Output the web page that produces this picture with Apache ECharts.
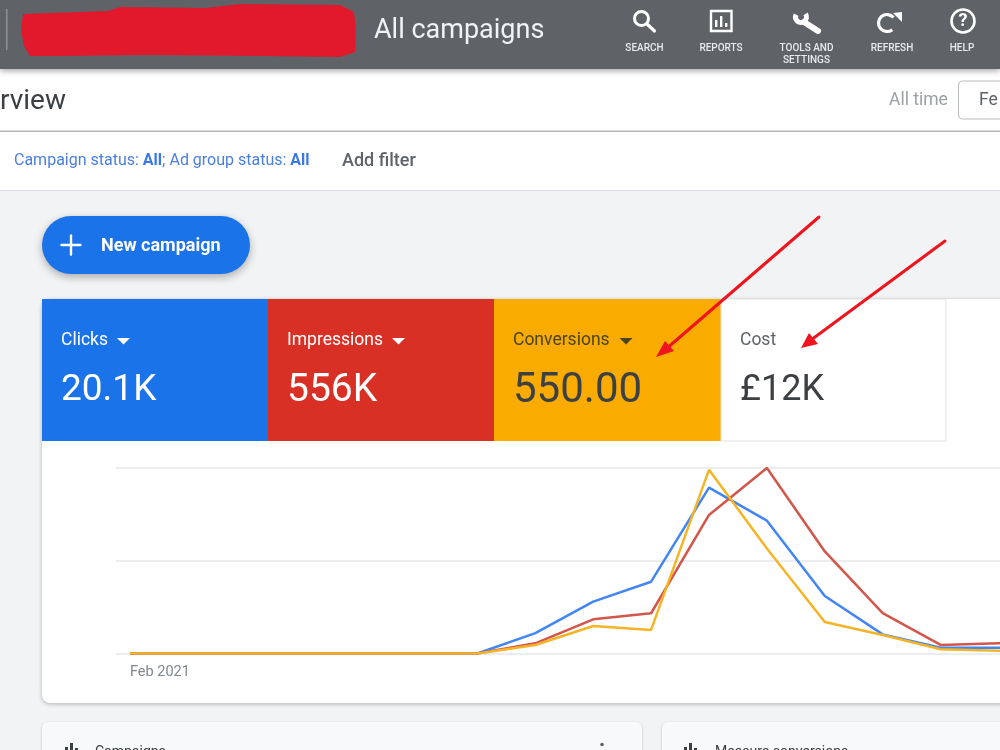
<!DOCTYPE html>
<html>
<head>
<meta charset="utf-8">
<style>
  html, body { margin: 0; padding: 0; background: #f1f3f4; overflow: hidden; }
  #chart { width: 1000px; height: 750px; }
</style>
<script src="https://cdn.jsdelivr.net/npm/echarts@6/dist/echarts.min.js"></script>
</head>
<body>
<div id="chart"></div>
<script>
var weeks = [0, 1, 2, 3, 4, 5, 6, 7, 8, 9, 10, 11, 12, 13, 14, 15, 16];
var clicks = [0, 0, 0, 0, 0, 0, 0, 11, 28, 38.7, 89.4, 71.6, 31, 10.3, 3.1, 3.1, 3.1];
var impressions = [0, 0, 0, 0, 0, 0, 0, 5.5, 18.4, 21.7, 74.7, 100, 55, 21.8, 4.6, 5.5, 5.7];
var conversions = [0, 0, 0, 0, 0, 0, 0, 4.6, 14.8, 12.7, 99, 56.6, 17, 10, 2.3, 1.5, 1.5];
var firstTickLabel = 'Feb 2021';

var kpiNames = ['Clicks', 'Impressions', 'Conversions', 'Cost'];
var kpiValues = ['20.1K', '556K', '550.00', '£12K'];

var navLabels = ['SEARCH', 'REPORTS', 'TOOLS AND\nSETTINGS', 'REFRESH', 'HELP'];

var FONT = 'Roboto, sans-serif';
var WHITE = '#ffffff';

function pairs(values) {
	return values.map(function (v, i) { return [weeks[i], v]; });
}

function rect(x, y, w, h, fill, extra) {
	var style = { fill: fill };
	var out = { type: 'rect', shape: { x: x, y: y, width: w, height: h }, style: style, silent: true };
	extra = extra || {};
	if (extra.r) out.shape.r = extra.r;
	if (extra.z !== undefined) out.z = extra.z;
	['stroke', 'lineWidth', 'shadowBlur', 'shadowColor', 'shadowOffsetY'].forEach(function (k) {
		if (extra[k] !== undefined) style[k] = extra[k];
	});
	return out;
}

function text(str, x, y, size, color, extra) {
	extra = extra || {};
	return {
		type: 'text', x: x, y: y + 1, silent: true, z: 5,
		style: {
			text: str, fill: color, font: (extra.weight || 400) + ' ' + size + 'px ' + FONT,
			align: extra.align || 'left', verticalAlign: 'middle', lineHeight: extra.lineHeight, rich: extra.rich
		}
	};
}

function line(x1, y1, x2, y2, color, width) {
	return { type: 'line', shape: { x1: x1, y1: y1, x2: x2, y2: y2 }, silent: true, z: 5,
		style: { stroke: color, lineWidth: width, lineCap: 'round' } };
}

function ring(cx, cy, r, color, width) {
	return { type: 'circle', shape: { cx: cx, cy: cy, r: r }, silent: true, z: 5,
		style: { fill: 'none', stroke: color, lineWidth: width } };
}

function poly(points, fill) {
	return { type: 'polygon', shape: { points: points }, silent: true, z: 5, style: { fill: fill } };
}

var els = [];

// top header
els.push(rect(0, 0, 1000, 69, '#5f6368', { z: 3, shadowBlur: 6, shadowColor: 'rgba(0,0,0,0.35)', shadowOffsetY: 2 }));
els.push(rect(6, 9, 1.5, 41, '#8d9094', { z: 4 }));
els.push(poly([[23, 14], [108, 11], [120, 7], [205, 8], [240, 4], [340, 5], [354, 12], [356, 30], [355, 52], [340, 57],
	[260, 56], [150, 55], [60, 56], [30, 56], [24, 46], [21, 30]], '#e2182d'));
els.push(text('All campaigns', 374, 30, 27, '#f1f3f4'));

var navX = [644.5, 721, 806.5, 892, 962];
navLabels.forEach(function (label, i) {
	var two = label.indexOf('\n') >= 0;
	els.push(text(label, navX[i], two ? 53 : 47, 10, '#e8eaed', { weight: 500, align: 'center', lineHeight: 12 }));
});

// search
els.push(ring(641.5, 18.5, 7, WHITE, 3));
els.push(line(647, 24, 654.5, 31, WHITE, 3.2));
// reports
els.push({ type: 'rect', shape: { x: 711, y: 11, width: 20.5, height: 20 }, silent: true, z: 5,
	style: { fill: 'none', stroke: WHITE, lineWidth: 2.4 } });
els.push(rect(715, 20, 2.4, 7, WHITE, { z: 5 }));
els.push(rect(720, 16, 2.4, 11, WHITE, { z: 5 }));
els.push(rect(725, 23, 2.4, 4, WHITE, { z: 5 }));
// wrench
els.push(line(804, 22, 818, 31, WHITE, 6));
els.push({ type: 'arc', shape: { cx: 801, cy: 17, r: 5.5, startAngle: -0.6, endAngle: 3.6, clockwise: true }, silent: true, z: 5,
	style: { fill: 'none', stroke: WHITE, lineWidth: 5 } });
// refresh
els.push({ type: 'arc', shape: { cx: 887, cy: 23, r: 8.5, startAngle: -0.7, endAngle: 0.9, clockwise: false }, silent: true, z: 5,
	style: { fill: 'none', stroke: WHITE, lineWidth: 3.2 } });
els.push(poly([[893, 13], [902, 12], [902, 22]], WHITE));
// help
els.push(ring(963, 21, 11.5, WHITE, 2.6));
els.push(text('?', 963, 20.5, 18, WHITE, { weight: 700, align: 'center' }));

// page title row
els.push(rect(0, 69, 1000, 62, WHITE, { z: 1 }));
els.push(rect(0, 130.5, 1000, 1.5, '#b4b6b8', { z: 2 }));
els.push(text('rview', 0, 100.5, 28, '#3c4043'));
els.push(text('All time', 889, 100, 17.5, '#9aa0a6'));
els.push({ type: 'rect', shape: { x: 958.5, y: 81, width: 60, height: 38, r: 4 }, silent: true, z: 4,
	style: { fill: WHITE, stroke: '#b8babc', lineWidth: 1 } });
els.push(text('Fe', 979, 100, 17.5, '#5f6368'));

// filter row
els.push(rect(0, 132, 1000, 58, WHITE, { z: 1 }));
els.push(rect(0, 190, 1000, 1, '#dadce0', { z: 2 }));
els.push(text('{a|Campaign status: }{b|All}{a|; Ad group status: }{b|All}', 14, 159.5, 16, '#4285f4', {
	rich: {
		a: { fill: '#4a7fe0', font: '400 16px ' + FONT },
		b: { fill: '#3b78e7', font: '700 16px ' + FONT }
	}
}));
els.push(text('Add filter', 342, 160, 18, '#5f6368', { weight: 500 }));

// new campaign button
els.push(rect(42, 216, 208, 58, '#1a73e8', { r: 29, z: 3, shadowBlur: 8, shadowColor: 'rgba(0,0,0,0.3)', shadowOffsetY: 3 }));
els.push(line(61.5, 245, 80.5, 245, WHITE, 2.4));
els.push(line(71, 235.5, 71, 254.5, WHITE, 2.4));
els.push(text('New campaign', 101, 245, 18, WHITE, { weight: 700 }));

// main card, sits under the chart lines
els.push(rect(42, 299, 1000, 404, WHITE, { r: 8, z: -2, shadowBlur: 4, shadowColor: 'rgba(0,0,0,0.28)', shadowOffsetY: 1 }));

// kpi tiles
var tileX = [42, 268, 494, 721];
var tileW = [226, 226, 227, 225];
var tileFill = ['#1a73e8', '#d93025', '#f9ab00', WHITE];
var tileLabel = [WHITE, WHITE, '#4b4420', '#5f6368'];
var tileValue = [WHITE, WHITE, '#3c4043', '#3c4043'];
var valueSize = [37, 39, 42, 36];
kpiNames.forEach(function (name, i) {
	var extra = { z: 3 };
	if (i === 3) { extra.stroke = '#e0e0e0'; extra.lineWidth = 1; }
	els.push(rect(tileX[i], 299, tileW[i], 142, tileFill[i], extra));
	els.push(text(name, tileX[i] + 19, 340, 17.5, tileLabel[i]));
	els.push(text(kpiValues[i], tileX[i] + 19, 390, valueSize[i], tileValue[i]));
});
var caretX = [123.5, 398.5, 626];
caretX.forEach(function (x, i) {
	els.push(poly([[x - 6.5, 338], [x + 6.5, 338], [x, 344.5]], tileLabel[i]));
});

// red annotation arrows
els.push(line(819, 217, 666, 349, '#f0141e', 3));
els.push(poly([[656, 357], [665, 341], [674, 351]], '#f0141e'));
els.push(line(945, 241, 811, 340, '#f0141e', 3));
els.push(poly([[801, 348], [809, 333], [818, 344]], '#f0141e'));

// cards below the chart, cut by the window
els.push(rect(42, 722, 600, 60, '#f8f9fa', { r: 6, z: 1, shadowBlur: 3, shadowColor: 'rgba(0,0,0,0.2)', shadowOffsetY: 1 }));
els.push(rect(662, 722, 380, 60, '#f8f9fa', { r: 6, z: 1, shadowBlur: 3, shadowColor: 'rgba(0,0,0,0.2)', shadowOffsetY: 1 }));
els.push(text('Campaigns', 95, 751, 14, '#3c4043'));
els.push(text('Measure conversions', 715, 751, 14, '#3c4043'));
[[65, 747, 3, 5], [70, 743, 3, 9], [75, 748, 3, 4], [684, 747, 3, 5], [689, 743, 3, 9], [694, 748, 3, 4]].forEach(function (b) {
	els.push(rect(b[0], b[1], b[2], b[3], '#3c4043', { z: 5 }));
});
els.push({ type: 'circle', shape: { cx: 602, cy: 744.5, r: 1.8 }, silent: true, z: 5, style: { fill: '#5f6368' } });

var myChart = echarts.init(document.getElementById('chart'), null, { renderer: 'canvas' });

var option = {
	animation: false,
	backgroundColor: '#f1f3f4',
	grid: { left: 116, right: 0, top: 468, bottom: 96.5 },
	xAxis: {
		type: 'value',
		min: -0.2418,
		max: 15.026,
		axisLine: { show: false },
		axisTick: { show: false },
		splitLine: { show: false },
		axisLabel: {
			customValues: [0],
			formatter: function () { return firstTickLabel; },
			align: 'left',
			margin: 11,
			fontFamily: FONT,
			fontSize: 14.5,
			color: '#80868b'
		}
	},
	yAxis: {
		type: 'value',
		min: 0,
		max: 100,
		interval: 50,
		axisLine: { show: false },
		axisTick: { show: false },
		axisLabel: { show: false },
		splitLine: { lineStyle: { color: '#e6e7e8', width: 1.5 } }
	},
	series: [
		{ name: 'Clicks', type: 'line', data: pairs(clicks), symbol: 'none', lineStyle: { color: '#4285f4', width: 2.5 } },
		{ name: 'Impressions', type: 'line', data: pairs(impressions), symbol: 'none', lineStyle: { color: '#d2574a', width: 2.5 } },
		{ name: 'Conversions', type: 'line', data: pairs(conversions), symbol: 'none', lineStyle: { color: '#f4b425', width: 2.5 } }
	],
	graphic: { elements: els }
};

myChart.setOption(option);
</script>
</body>
</html>
